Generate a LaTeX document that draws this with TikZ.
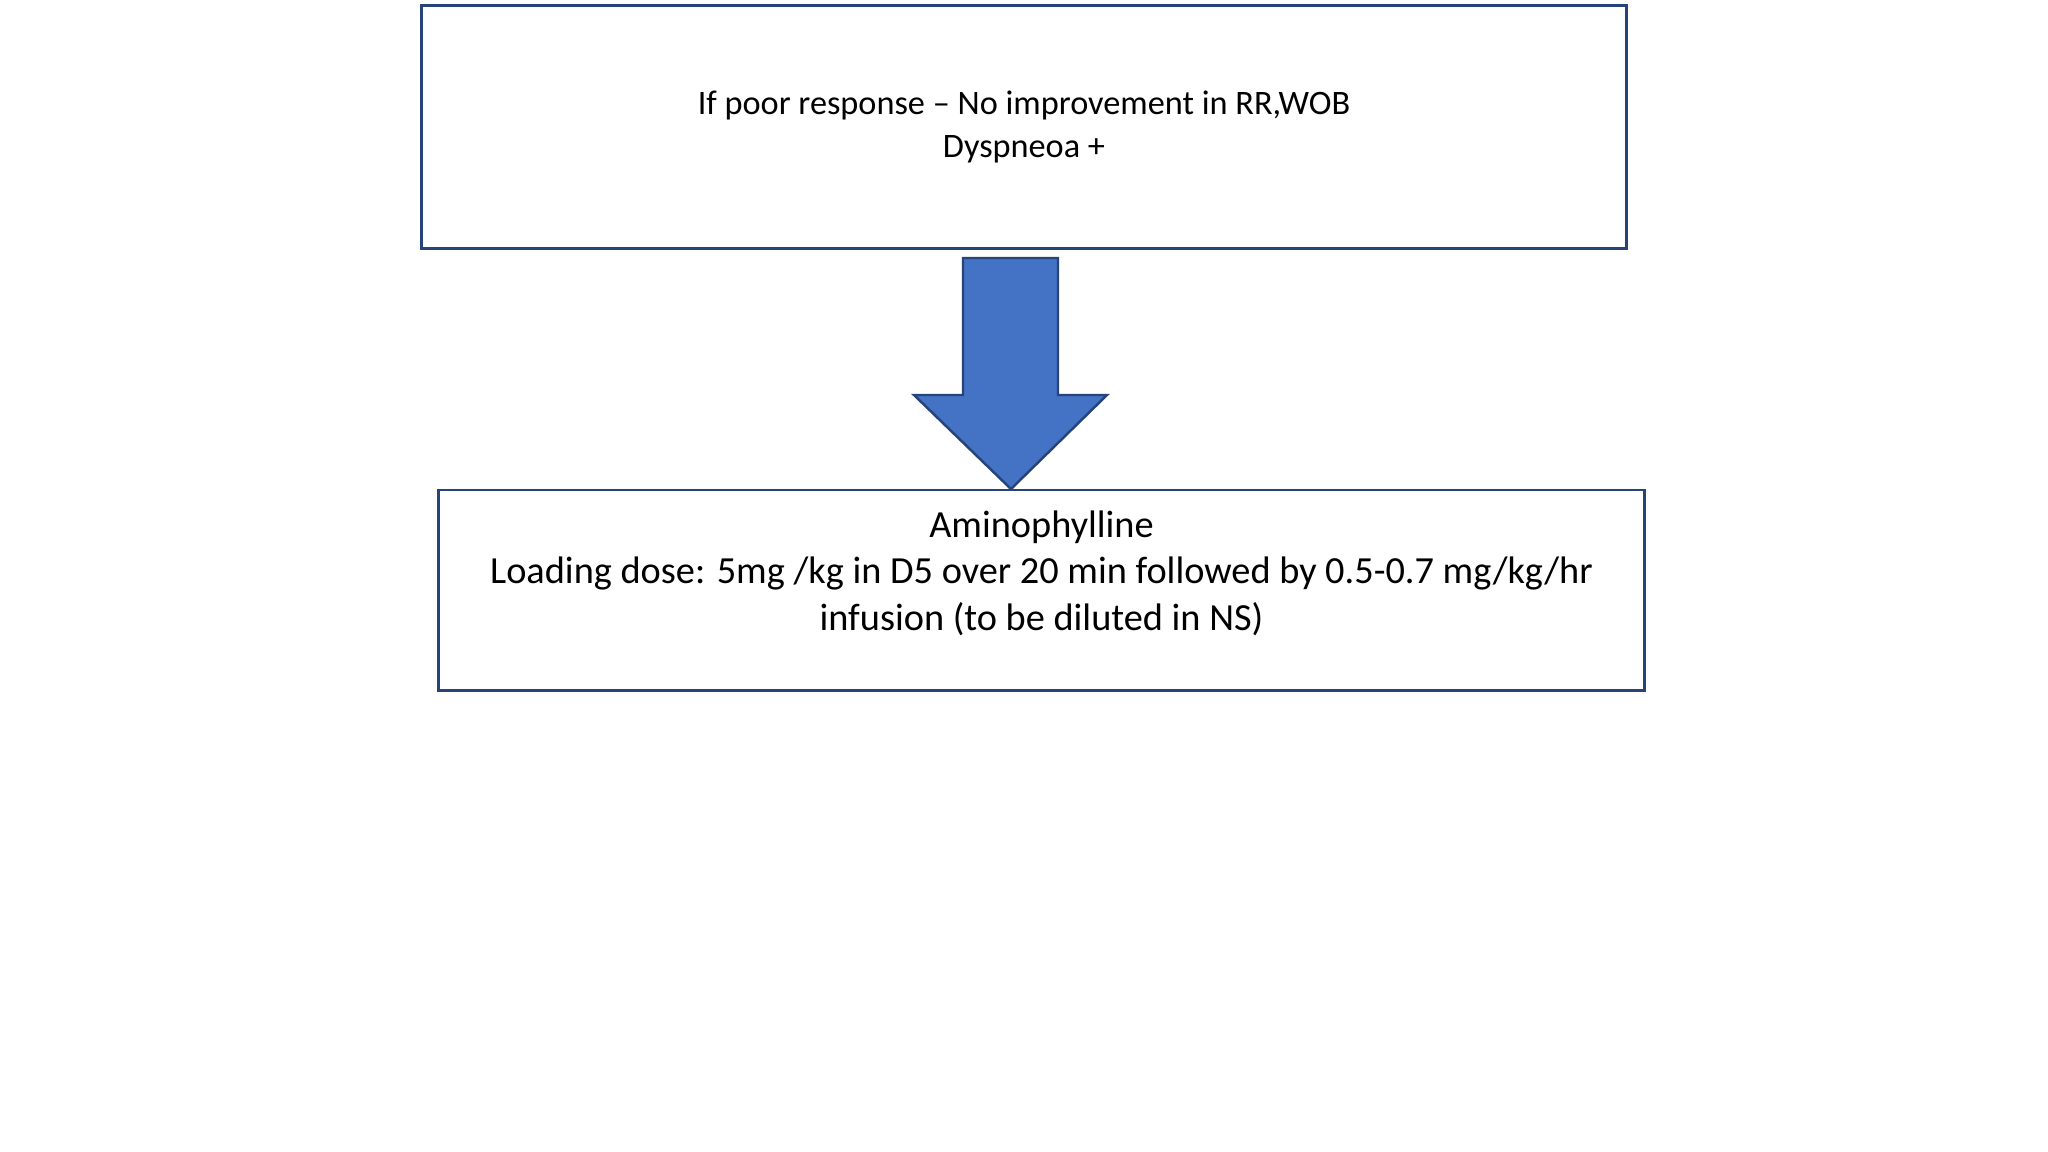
\documentclass[tikz,border=0pt]{standalone}
\usepackage{fontspec}
\setmainfont{Carlito}
\usetikzlibrary{positioning}
\definecolor{boxline}{HTML}{26447A}
\definecolor{arrowfill}{HTML}{4472C4}
\tikzset{
  basic/.style    = {draw=boxline, line width=0.7pt, rectangle, align=center},
  question/.style = {basic, minimum width=12.04cm, minimum height=2.43cm,
                     font=\fontsize{9.75}{12}\selectfont},
  treatment/.style = {basic, minimum width=12.05cm, inner ysep=0.07cm,
                     text height=1.33cm, text depth=0.53cm,
                     font=\fontsize{10.9}{13.2}\selectfont},
  blockarrow/.style = {draw=boxline, line width=0.7pt, fill=arrowfill, line join=miter}
}
\begin{document}
\begin{tikzpicture}[x=0.01cm, y=-0.01cm]
\useasboundingbox (0,0) rectangle (2048,1152);

% first box
\node[question] (poor) at (1024,127) {If poor response -- No improvement in RR,WOB\\ Dyspneoa +};

% second box, text at the top
\node[treatment, anchor=north] (amino) at (1041.5,489) {Aminophylline\\
  Loading dose: 5mg /kg in D5 over 20 min followed by 0.5-0.7 mg/kg/hr\\
  infusion (to be diluted in NS)};

% big arrow between the boxes
\coordinate (tip) at ([xshift=-0.305cm]amino.north);
\draw[blockarrow] (tip) -- ++(-97,-94) -- ++(49,0) -- ++(0,-137) -- ++(95,0)
  -- ++(0,137) -- ++(49,0) -- cycle;
\end{tikzpicture}
\end{document}
